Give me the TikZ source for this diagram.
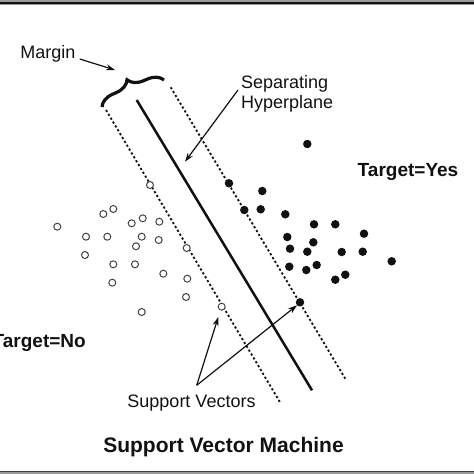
\documentclass[tikz,border=0pt]{standalone}
\usepackage{fontspec}
\setmainfont{Liberation Sans}
\usepackage{xcolor}
\usetikzlibrary{arrows.meta,positioning,decorations.pathreplacing}
\definecolor{SvmInk}{HTML}{111111}
\definecolor{SvmRule}{HTML}{9A9A9A}

\begin{document}
\begin{tikzpicture}[x=1pt, y=-1pt,
  lbl/.style={font=\fontsize{18}{21}\selectfont, text=SvmInk, inner sep=0pt, align=left},
  tgt/.style={font=\fontsize{19}{22}\selectfont\bfseries, text=SvmInk, inner sep=0pt},
  nodot/.style={circle, draw=SvmInk!80, line width=1pt, fill=white, minimum size=7pt, inner sep=0pt},
  yesdot/.style={circle, fill=SvmInk, minimum size=8.5pt, inner sep=0pt},
  margline/.style={SvmInk, line width=1.8pt, dash pattern=on 2.2pt off 2.3pt},
  hyper/.style={SvmInk, line width=2.5pt},
  pointer/.style={-{Stealth[length=9pt, width=6pt]}, SvmInk, line width=1.2pt}]
  \clip (0,0) rectangle (474,474);

  % frame rules
  \fill[SvmRule] (0,0) rectangle (474,5);
  \draw[SvmInk, line width=2pt] (0,3) -- (474,3);
  \fill[SvmRule] (0,471) rectangle (474,474);
  \draw[SvmInk!80, line width=1pt] (0,471) -- (474,471);

  % margin lines and hyperplane
  \coordinate (mlA) at (106,110);   \coordinate (mlB) at (280.3,402.7);
  \coordinate (hpA) at (136.7,100); \coordinate (hpB) at (312,390.3);
  \coordinate (mrA) at (170.7,87.3); \coordinate (mrB) at (345.3,378.7);
  \draw[margline] (mlA) -- (mlB);
  \draw[hyper] (hpA) -- (hpB);
  \draw[margline] (mrA) -- (mrB);

  % class No
  \foreach \px/\py [count=\i] in {57.3/226.7, 103.3/214, 113.3/209, 131.7/223.3, 142.7/218.3,
      159.3/221.7, 86/236.7, 107.3/236.7, 141.7/236.7, 136/246.3, 158.7/240, 85/255,
      113.3/264.3, 135/264.3, 163.3/273.7, 187.3/278.7, 112.3/282.7, 186/297, 141.7/312}
    \node[nodot] (n\i) at (\px,\py) {};
  \node[nodot] (svn1) at (150,185) {};
  \node[nodot] (svn2) at (186.7,248) {};
  \node[nodot] (svn3) at (221.7,306.7) {};

  % class Yes
  \foreach \px/\py [count=\i] in {307.3/144, 262.3/191, 260.7/209.3, 285.3/214.3, 314/224.3,
      335.3/224.3, 364/233.7, 287.3/237, 313.3/242.3, 290/248.7, 307.3/251.7, 341.7/252,
      362.7/251.7, 391.7/261.3, 289.3/266.7, 306.3/270, 316.7/265, 335.3/279.7, 345.3/274.7}
    \node[yesdot] (p\i) at (\px,\py) {};
  \node[yesdot] (svp1) at (229,183.3) {};
  \node[yesdot] (svp2) at (244.3,210) {};
  \node[yesdot] (svp3) at (300,302.3) {};

  % labels
  \node[lbl] (margin) at (48,54) {Margin};
  \node[lbl, anchor=west] (sephp) at (241,94) {Separating\\[-1.5pt]Hyperplane};
  \node[tgt] (yes) at (408,171.7) {Target=Yes};
  \node[tgt, anchor=east] (no) at (86,343) {Target=No};
  \node[lbl] (svlbl) at (191.5,402.7) {Support Vectors};
  \node[font=\fontsize{21}{25}\selectfont\bfseries, text=SvmInk, inner sep=0pt] (title) at (223.5,447.3) {Support Vector Machine};

  % brace over the margin
  \draw[SvmInk, line width=3.2pt, decorate, decoration={brace, amplitude=15pt}]
    (102,107) -- (164,80);

  % pointers
  \coordinate (mgTip) at (115,70);
  \coordinate (hpTip) at (185,161.7);
  \coordinate (svFork) at (196.7,385.3);
  \coordinate (svTipN) at (218.3,317);
  \coordinate (svTipP) at (297,305.3);
  \draw[pointer] (margin.east) ++(4,5) -- (mgTip);
  \draw[pointer] (sephp.west) ++(-3,-4) -- (hpTip);
  \draw[pointer] (svFork) -- (svTipN);
  \draw[pointer] (svFork) -- (svTipP);
\end{tikzpicture}
\end{document}
